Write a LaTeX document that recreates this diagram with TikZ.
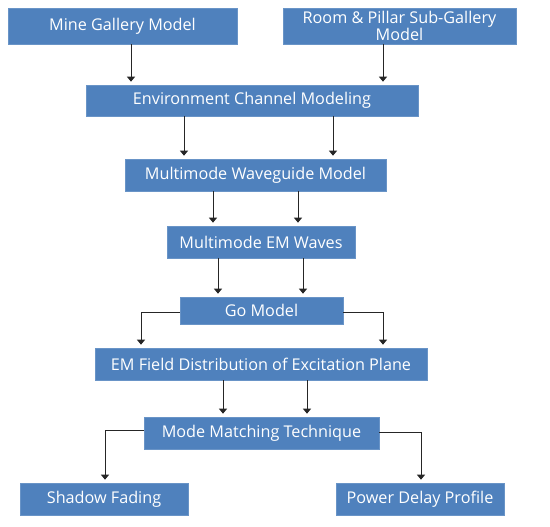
\documentclass[tikz,border=0pt]{standalone}
\usepackage{fontspec}
\setmainfont{Open Sans}
\usetikzlibrary{arrows.meta}
\definecolor{boxblue}{HTML}{4F81BD}
\tikzset{
  blk/.style={rectangle, fill=boxblue, draw=boxblue!85!white, line width=0.6pt, text=white, inner sep=0pt, align=center, font=\fontsize{16.2}{17}\selectfont},
  arr/.style={draw=black!85, line width=1pt, -{Triangle[width=8pt,length=5pt]}, shorten >=3pt}
}
\begin{document}
\begin{tikzpicture}[x=1pt,y=-1pt]
\useasboundingbox (0,0) rectangle (550,527);
\node[blk, minimum width=229pt, minimum height=36pt] (mg) at (122.5,26) {Mine Gallery Model};
\node[blk, minimum width=233pt, minimum height=36pt] (rp) at (399.5,26) {Room \& Pillar Sub-Gallery\\Model};
\node[blk, minimum width=332pt, minimum height=31pt] (env) at (252,100.5) {Environment Channel Modeling};
\node[blk, minimum width=261pt, minimum height=32pt] (mw) at (255.5,175) {Multimode Waveguide Model};
\node[blk, minimum width=188pt, minimum height=32pt] (em) at (261,242) {Multimode EM Waves};
\node[blk, minimum width=163pt, minimum height=27pt] (go) at (261.5,310.5) {Go Model};
\node[blk, minimum width=332pt, minimum height=32pt] (ef) at (261,364) {EM Field Distribution of Excitation Plane};
\node[blk, minimum width=235pt, minimum height=32pt] (mm) at (261.5,433) {Mode Matching Technique};
\node[blk, minimum width=168pt, minimum height=32pt] (sf) at (104,499) {Shadow Fading};
\node[blk, minimum width=168pt, minimum height=32pt] (pd) at (420,499) {Power Delay Profile};
\coordinate (x131) at (131,0);
\coordinate (x383) at (383,0);
\coordinate (x184) at (184,0);
\coordinate (x333) at (333,0);
\coordinate (x213) at (213,0);
\coordinate (x298) at (298,0);
\coordinate (x218) at (218,0);
\coordinate (x303) at (303,0);
\coordinate (x141) at (141,0);
\coordinate (x223) at (223,0);
\coordinate (x307) at (307,0);
\coordinate (x105) at (105,0);
\coordinate (x421) at (421,0);
\coordinate (y312) at (0,312);
\coordinate (y430) at (0,430);
\coordinate (y432) at (0,432);
\draw[arr] (mg.south -| x131) -- (env.north -| x131);
\draw[arr] (rp.south -| x383) -- (env.north -| x383);
\draw[arr] (env.south -| x184) -- (mw.north -| x184);
\draw[arr] (env.south -| x333) -- (mw.north -| x333);
\draw[arr] (mw.south -| x213) -- (em.north -| x213);
\draw[arr] (mw.south -| x298) -- (em.north -| x298);
\draw[arr] (em.south -| x218) -- (go.north -| x218);
\draw[arr] (em.south -| x303) -- (go.north -| x303);
\draw[arr] (go.west |- y312) -| (ef.north -| x141);
\draw[arr] (go.east |- y312) -| (ef.north -| x383);
\draw[arr] (ef.south -| x223) -- (mm.north -| x223);
\draw[arr] (ef.south -| x307) -- (mm.north -| x307);
\draw[arr] (mm.west |- y430) -| (sf.north -| x105);
\draw[arr] (mm.east |- y432) -| (pd.north -| x421);
\end{tikzpicture}
\end{document}
